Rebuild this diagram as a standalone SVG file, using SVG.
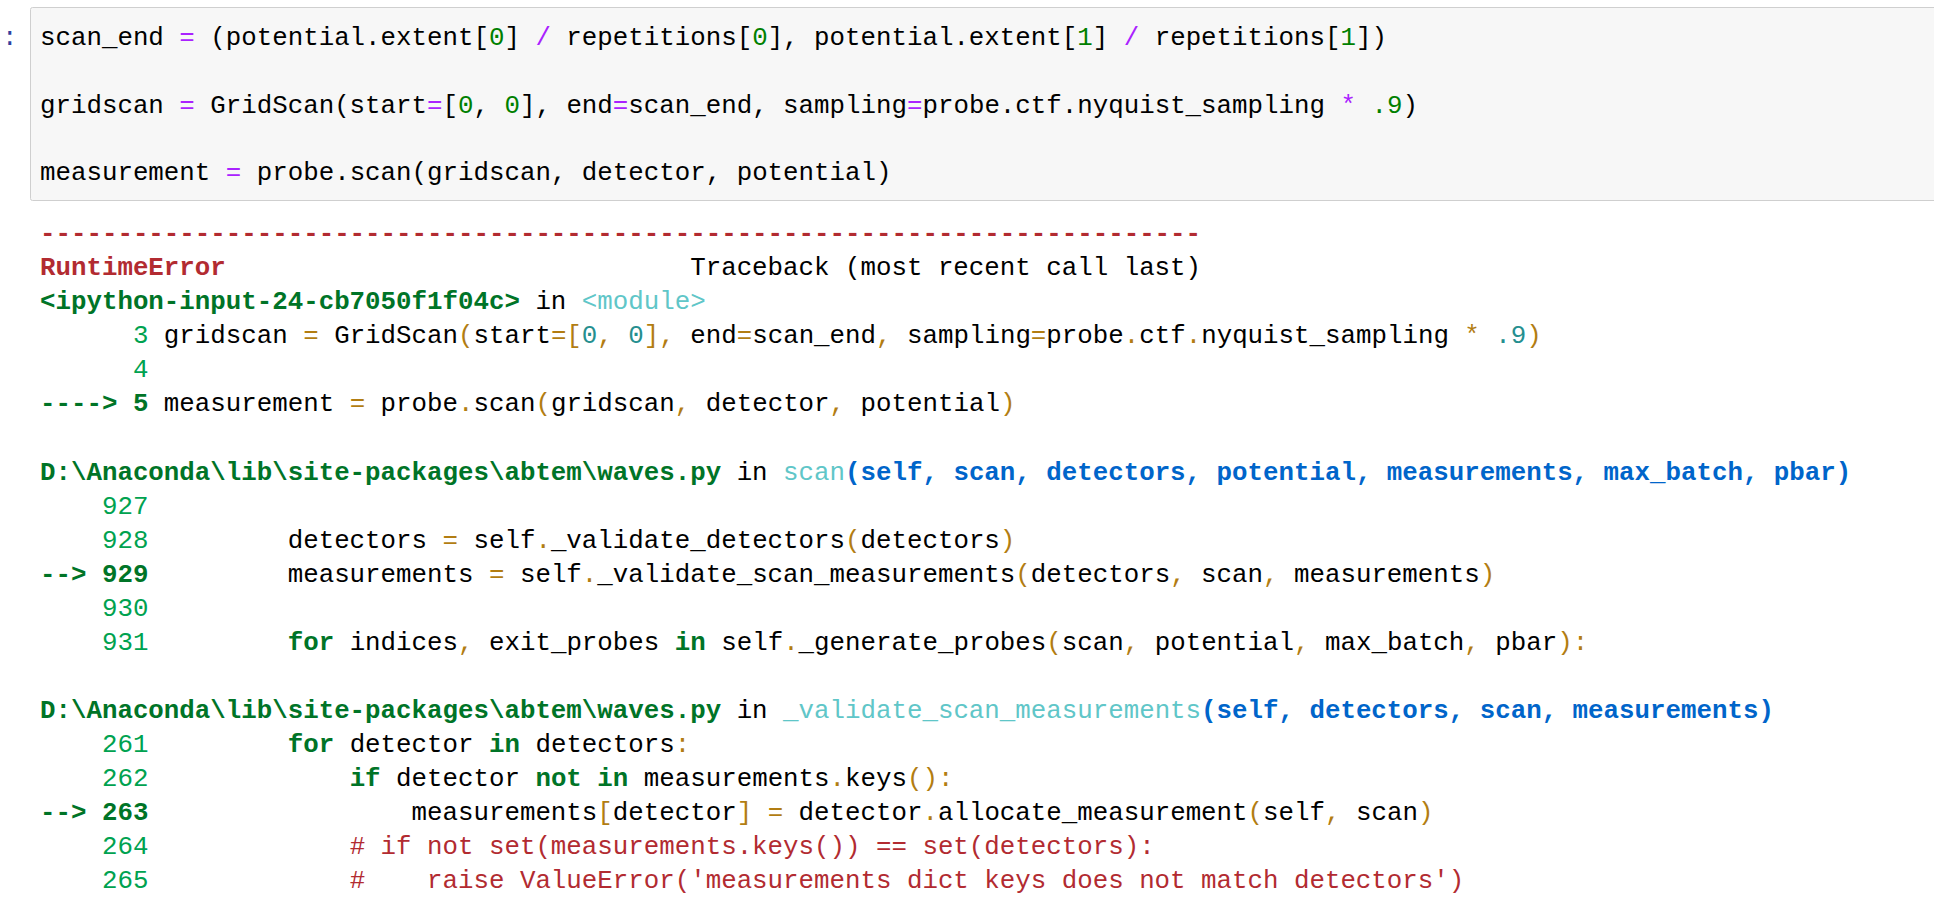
<svg xmlns="http://www.w3.org/2000/svg" width="1934" height="913" viewBox="0 0 1934 913">
<style>
text{font-family:"Liberation Mono","DejaVu Sans Mono",monospace;font-size:25.8px;fill:#000;white-space:pre}
.p{fill:#aa22ff}.k{fill:#008000}
.r{fill:#b22b31;font-weight:bold}.rc{fill:#b22b31}
.g{fill:#007427;font-weight:bold}.n{fill:#00a250}
.c{fill:#60c6c8}.b{fill:#0065ca;font-weight:bold}
.y{fill:#b27d12}.t{fill:#258f8f}
</style>
<rect width="1934" height="913" fill="#fff"/>
<g id="prompt"><text x="2" y="45" style="fill:#303f9f">:</text></g>
<g id="cell">
<rect x="30.5" y="7.5" width="1910" height="193" rx="2" fill="#f7f7f7" stroke="#cfcfcf"/>
<text x="40" y="45" xml:space="preserve">scan_end <tspan class="p">=</tspan> (potential.extent[<tspan class="k">0</tspan>] <tspan class="p">/</tspan> repetitions[<tspan class="k">0</tspan>], potential.extent[<tspan class="k">1</tspan>] <tspan class="p">/</tspan> repetitions[<tspan class="k">1</tspan>])</text>
<text x="40" y="113" xml:space="preserve">gridscan <tspan class="p">=</tspan> GridScan(start<tspan class="p">=</tspan>[<tspan class="k">0</tspan>, <tspan class="k">0</tspan>], end<tspan class="p">=</tspan>scan_end, sampling<tspan class="p">=</tspan>probe.ctf.nyquist_sampling <tspan class="p">*</tspan> <tspan class="k">.9</tspan>)</text>
<text x="40" y="180" xml:space="preserve">measurement <tspan class="p">=</tspan> probe.scan(gridscan, detector, potential)</text>
</g>
<g id="traceback">
<text x="40" y="241" class="r" xml:space="preserve">---------------------------------------------------------------------------</text>
<text x="40" y="275" xml:space="preserve"><tspan class="r">RuntimeError</tspan>                              Traceback (most recent call last)</text>
<text x="40" y="309" xml:space="preserve"><tspan class="g">&lt;ipython-input-24-cb7050f1f04c&gt;</tspan> in <tspan class="c">&lt;module&gt;</tspan></text>
<text x="40" y="343" xml:space="preserve"><tspan class="n">      3</tspan> gridscan <tspan class="y">=</tspan> GridScan<tspan class="y">(</tspan>start<tspan class="y">=[</tspan><tspan class="t">0</tspan><tspan class="y">,</tspan> <tspan class="t">0</tspan><tspan class="y">],</tspan> end<tspan class="y">=</tspan>scan_end<tspan class="y">,</tspan> sampling<tspan class="y">=</tspan>probe<tspan class="y">.</tspan>ctf<tspan class="y">.</tspan>nyquist_sampling <tspan class="y">*</tspan> <tspan class="t">.9</tspan><tspan class="y">)</tspan></text>
<text x="40" y="377" class="n" xml:space="preserve">      4</text>
<text x="40" y="411" xml:space="preserve"><tspan class="g">----&gt; 5</tspan> measurement <tspan class="y">=</tspan> probe<tspan class="y">.</tspan>scan<tspan class="y">(</tspan>gridscan<tspan class="y">,</tspan> detector<tspan class="y">,</tspan> potential<tspan class="y">)</tspan></text>
<text x="40" y="480" xml:space="preserve"><tspan class="g">D:\Anaconda\lib\site-packages\abtem\waves.py</tspan> in <tspan class="c">scan</tspan><tspan class="b">(self, scan, detectors, potential, measurements, max_batch, pbar)</tspan></text>
<text x="40" y="514" class="n" xml:space="preserve">    927</text>
<text x="40" y="548" xml:space="preserve"><tspan class="n">    928</tspan>         detectors <tspan class="y">=</tspan> self<tspan class="y">.</tspan>_validate_detectors<tspan class="y">(</tspan>detectors<tspan class="y">)</tspan></text>
<text x="40" y="582" xml:space="preserve"><tspan class="g">--&gt; 929</tspan>         measurements <tspan class="y">=</tspan> self<tspan class="y">.</tspan>_validate_scan_measurements<tspan class="y">(</tspan>detectors<tspan class="y">,</tspan> scan<tspan class="y">,</tspan> measurements<tspan class="y">)</tspan></text>
<text x="40" y="616" class="n" xml:space="preserve">    930</text>
<text x="40" y="650" xml:space="preserve"><tspan class="n">    931</tspan>         <tspan class="g">for</tspan> indices<tspan class="y">,</tspan> exit_probes <tspan class="g">in</tspan> self<tspan class="y">.</tspan>_generate_probes<tspan class="y">(</tspan>scan<tspan class="y">,</tspan> potential<tspan class="y">,</tspan> max_batch<tspan class="y">,</tspan> pbar<tspan class="y">):</tspan></text>
<text x="40" y="718" xml:space="preserve"><tspan class="g">D:\Anaconda\lib\site-packages\abtem\waves.py</tspan> in <tspan class="c">_validate_scan_measurements</tspan><tspan class="b">(self, detectors, scan, measurements)</tspan></text>
<text x="40" y="752" xml:space="preserve"><tspan class="n">    261</tspan>         <tspan class="g">for</tspan> detector <tspan class="g">in</tspan> detectors<tspan class="y">:</tspan></text>
<text x="40" y="786" xml:space="preserve"><tspan class="n">    262</tspan>             <tspan class="g">if</tspan> detector <tspan class="g">not</tspan> <tspan class="g">in</tspan> measurements<tspan class="y">.</tspan>keys<tspan class="y">():</tspan></text>
<text x="40" y="820" xml:space="preserve"><tspan class="g">--&gt; 263</tspan>                 measurements<tspan class="y">[</tspan>detector<tspan class="y">]</tspan> <tspan class="y">=</tspan> detector<tspan class="y">.</tspan>allocate_measurement<tspan class="y">(</tspan>self<tspan class="y">,</tspan> scan<tspan class="y">)</tspan></text>
<text x="40" y="854" xml:space="preserve"><tspan class="n">    264</tspan>             <tspan class="rc"># if not set(measurements.keys()) == set(detectors):</tspan></text>
<text x="40" y="888" xml:space="preserve"><tspan class="n">    265</tspan>             <tspan class="rc">#    raise ValueError('measurements dict keys does not match detectors')</tspan></text>
</g>
</svg>
